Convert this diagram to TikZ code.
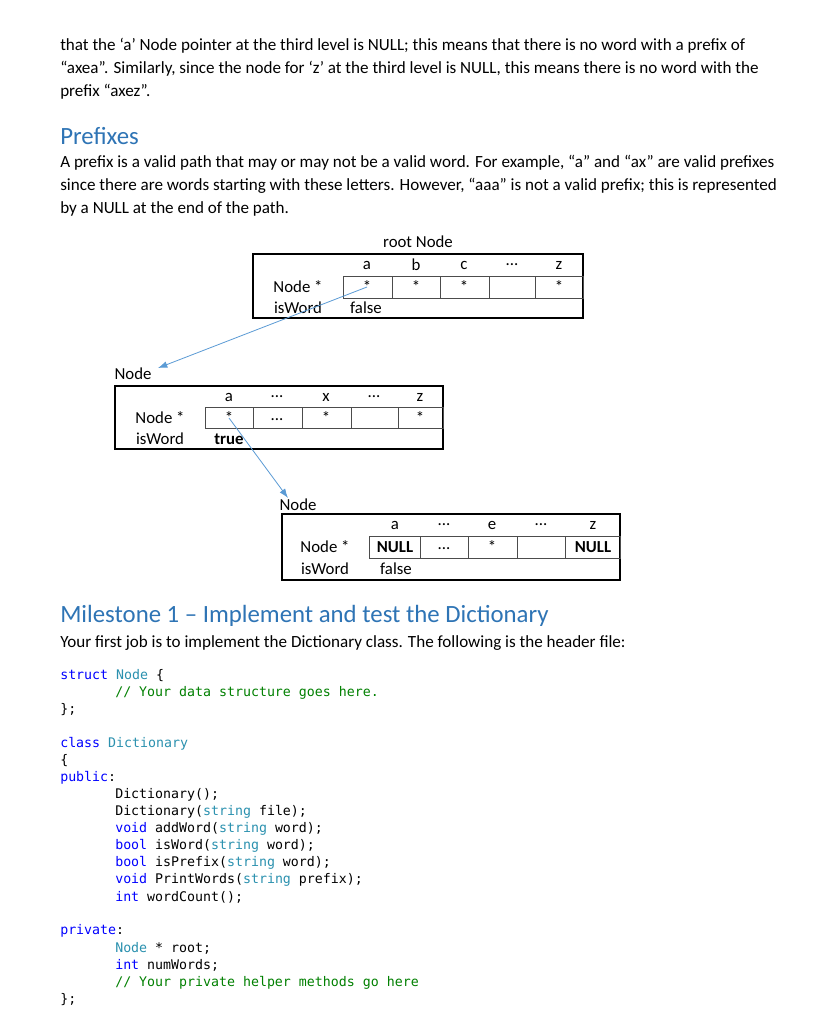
\documentclass[tikz,border=0pt]{standalone}
\usepackage{fontspec}
\setmainfont{Carlito}
\newfontfamily\cod{DejaVu Sans Mono}
\newcommand\myell{...}
\usetikzlibrary{arrows.meta}
\begin{document}
\begin{tikzpicture}[x=0.75pt,y=-0.75pt,
  t/.style={anchor=west,inner sep=0pt,font=\fontsize{12.8}{15}\selectfont},
  c/.style={inner sep=0pt,font=\fontsize{12.6}{15}\selectfont},
  h/.style={anchor=west,inner sep=0pt,font=\fontsize{18.6}{22}\selectfont,text=hd},
  k/.style={anchor=west,inner sep=0pt,font=\cod\fontsize{9.95}{12}\selectfont},
  box/.style={draw=black,line width=0.9pt},
  grid/.style={draw=black!70,line width=0.5pt},
  arr/.style={draw=arrc,line width=0.6pt,-{Latex[length=7pt,width=5pt]}}]
\definecolor{hd}{RGB}{46,116,181}
\definecolor{kw}{RGB}{0,0,255}
\definecolor{ty}{RGB}{43,145,175}
\definecolor{cm}{RGB}{0,128,0}
\definecolor{arrc}{RGB}{91,155,213}
\useasboundingbox[fill=white] (0,0) rectangle (830,1024);
% paragraph text
\node[t] at (60,46) {that the ‘a’ Node pointer at the third level is NULL; this means that there is no word with a prefix of};
\node[t] at (60,69) {“axea”.  Similarly, since the node for ‘z’ at the third level is NULL, this means there is no word with the};
\node[t] at (60,92) {prefix “axez”.};
\node[h] at (60,136) {Prefixes};
\node[t] at (60,163) {A prefix is a valid path that may or may not be a valid word.  For example, “a” and “ax” are valid prefixes};
\node[t] at (60,186) {since there are words starting with these letters.  However, “aaa” is not a valid prefix; this is represented};
\node[t] at (60,209) {by a NULL at the end of the path.};
% root node
\node[c] (rl) at (418,242) {root Node};
\draw[box] (253,254) rectangle (583,318);
\draw[grid] (343,276) rectangle (583,298);
\foreach \x in {392,440,489,535} \draw[grid] (\x,276) -- (\x,298);
\foreach \x/\l in {367/a,416/b,464/c,512/\myell,559/z} \node[c] at (\x,265) {\l};
\node[c] (r1) at (367,287) {*};
\foreach \x in {416,464,559} \node[c] at (\x,287) {*};
\node[c] at (298,287) {Node *};
\node[c] at (298,308) {isWord};
\node[c] at (366,308) {false};
% second node
\node[c] (n2) at (133,374) {Node};
\draw[box] (115,386) rectangle (443,449);
\draw[grid] (205,407) rectangle (443,428);
\foreach \x in {253,302,351,398} \draw[grid] (\x,407) -- (\x,428);
\foreach \x/\l in {229/a,277/\myell,326/x,374/\myell,420/z} \node[c] at (\x,397) {\l};
\node[c] (s2) at (229,418) {*};
\node[c] at (277,420) {\myell};
\node[c] at (326,418) {*};
\node[c] at (420,418) {*};
\node[c] at (160,418) {Node *};
\node[c] at (160,439) {isWord};
\node[c] at (229,439) {\bfseries true};
% third node
\node[c] (n3) at (298,505) {Node};
\draw[box] (282,514) rectangle (620,580);
\draw[grid] (369,536) rectangle (620,558);
\foreach \x in {420,468,517,565} \draw[grid] (\x,536) -- (\x,558);
\foreach \x/\l in {395/a,444/\myell,492/e,541/\myell,593/z} \node[c] at (\x,525) {\l};
\node[c] at (395,547) {\bfseries NULL};
\node[c] at (444,549) {\myell};
\node[c] at (492,547) {*};
\node[c] at (593,547) {\bfseries NULL};
\node[c] at (325,547) {Node *};
\node[c] at (325,569) {isWord};
\node[c] at (396,569) {false};
% arrows
\draw[arr] (r1.center) -- (158,368);
\draw[arr] (s2.center) -- (288,498);
% milestone
\node[h] at (60,616) {Milestone 1 – Implement and test the Dictionary};
\node[t] at (60,643) {Your first job is to implement the Dictionary class.  The following is the header file:};
% code
\node[k] at (60,676) {\textcolor{kw}{struct} \textcolor{ty}{Node} \{};
\node[k] at (115,693) {\textcolor{cm}{// Your data structure goes here.}};
\node[k] at (60,710) {\};};
\node[k] at (60,744) {\textcolor{kw}{class} \textcolor{ty}{Dictionary}};
\node[k] at (60,761) {\{};
\node[k] at (60,778) {\textcolor{kw}{public}:};
\node[k] at (115,795) {Dictionary();};
\node[k] at (115,812) {Dictionary(\textcolor{ty}{string} file);};
\node[k] at (115,829) {\textcolor{kw}{void} addWord(\textcolor{ty}{string} word);};
\node[k] at (115,846) {\textcolor{kw}{bool} isWord(\textcolor{ty}{string} word);};
\node[k] at (115,863) {\textcolor{kw}{bool} isPrefix(\textcolor{ty}{string} word);};
\node[k] at (115,880) {\textcolor{kw}{void} PrintWords(\textcolor{ty}{string} prefix);};
\node[k] at (115,897) {\textcolor{kw}{int} wordCount();};
\node[k] at (60,931) {\textcolor{kw}{private}:};
\node[k] at (115,948) {\textcolor{ty}{Node} * root;};
\node[k] at (115,965) {\textcolor{kw}{int} numWords;};
\node[k] at (115,983) {\textcolor{cm}{// Your private helper methods go here}};
\node[k] at (60,1000) {\};};
\end{tikzpicture}
\end{document}
